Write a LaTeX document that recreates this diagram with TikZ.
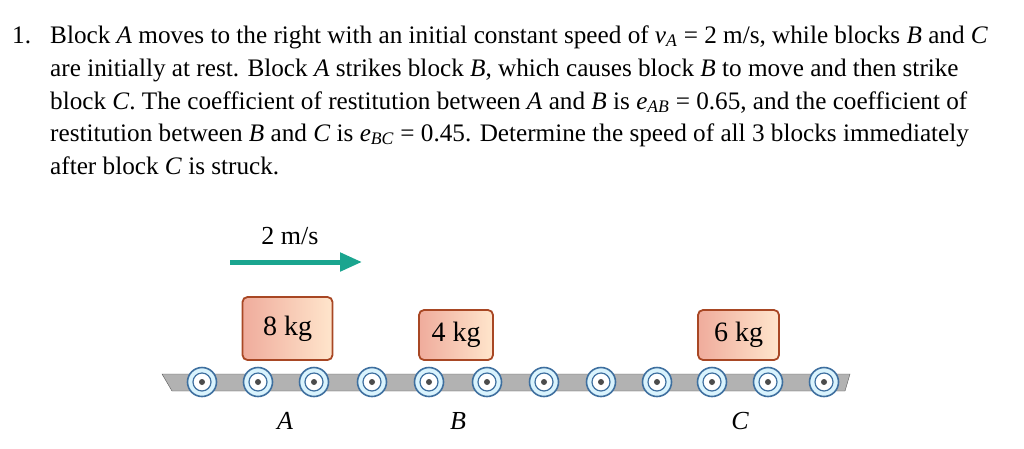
\documentclass[tikz,border=0pt]{standalone}
\usepackage{fontspec}
\setmainfont{Liberation Serif}
\usetikzlibrary{arrows.meta}
\definecolor{arr}{HTML}{1AA58F}
\begin{document}
\begin{tikzpicture}[x=1pt,y=-1pt,
  txt/.style={anchor=base west,inner sep=0pt,font=\fontsize{25.2}{28}\selectfont},
  lbl/.style={font=\fontsize{26}{28}\selectfont\itshape},
  kg/.style={font=\fontsize{28}{30}\selectfont},
  blk/.style={draw=brown!70!red!80!black,line width=1.8pt,rounded corners=5pt,left color=brown!55!red!45,right color=orange!20!white,inner sep=0pt},
  roller/.style={circle,draw=cyan!60!blue!70!black,line width=1.6pt,fill=cyan!15,minimum size=29pt,inner sep=0pt},
  ]
\useasboundingbox (0,0) rectangle (1024,448);
\newcommand{\ital}[1]{\textit{#1}}
\node[txt] (n1) at (12,43) {1.};
\node[txt] (l1) at (50,43) {Block \ital{A} moves to the right with an initial constant speed of \ital{v}\textsubscript{\ital{A}} = 2 m/s, while blocks \ital{B} and \ital{C}};
\node[txt] (l2) at (50,76) {are initially at rest. Block \ital{A} strikes block \ital{B}, which causes block \ital{B} to move and then strike};
\node[txt] (l3) at (50,109) {block \ital{C}. The coefficient of restitution between \ital{A} and \ital{B} is \ital{e}\textsubscript{\ital{AB}} = 0.65, and the coefficient of};
\node[txt] (l4) at (50,141) {restitution between \ital{B} and \ital{C} is \ital{e}\textsubscript{\ital{BC}} = 0.45. Determine the speed of all 3 blocks immediately};
\node[txt] (l5) at (50,174) {after block \ital{C} is struck.};
% beam
\fill[gray!60,draw=gray!70!black] (162,374) -- (850,374) -- (845,391) -- (172,391) -- cycle;
\foreach \i/\x in {1/202,2/258,3/314,4/372,5/429,6/487,7/544,8/601,9/657,10/712,11/768,12/824}{
  \node[roller] (r\i) at (\x,382) {};
  \draw[cyan!60!blue!70!black,line width=1.2pt,fill=white] (r\i) circle (9pt);
  \fill[gray!60!black] (r\i) circle (3pt);
}
\node[blk,minimum width=90pt,minimum height=63pt] (bA) at (287.5,328.5) {};
\node[kg] at (bA) {8 kg};
\node[blk,minimum width=74pt,minimum height=50pt] (bB) at (456,335) {};
\node[kg] at (bB) {4 kg};
\node[blk,minimum width=81pt,minimum height=50pt] (bC) at (738.5,335) {};
\node[kg] at (bC) {6 kg};
\node[lbl] (la) at (285,421) {A};
\node[lbl] (lb) at (458,421) {B};
\node[lbl] (lc) at (740,421) {C};
\coordinate (a0) at (230,262);
\coordinate (a1) at (362,262);
\draw[arr,line width=5pt,-{Triangle[length=22pt,width=18pt]}] (a0) -- (a1);
\node[font=\fontsize{26}{28}\selectfont] (v) at (290,236) {2 m/s};
\end{tikzpicture}
\end{document}
